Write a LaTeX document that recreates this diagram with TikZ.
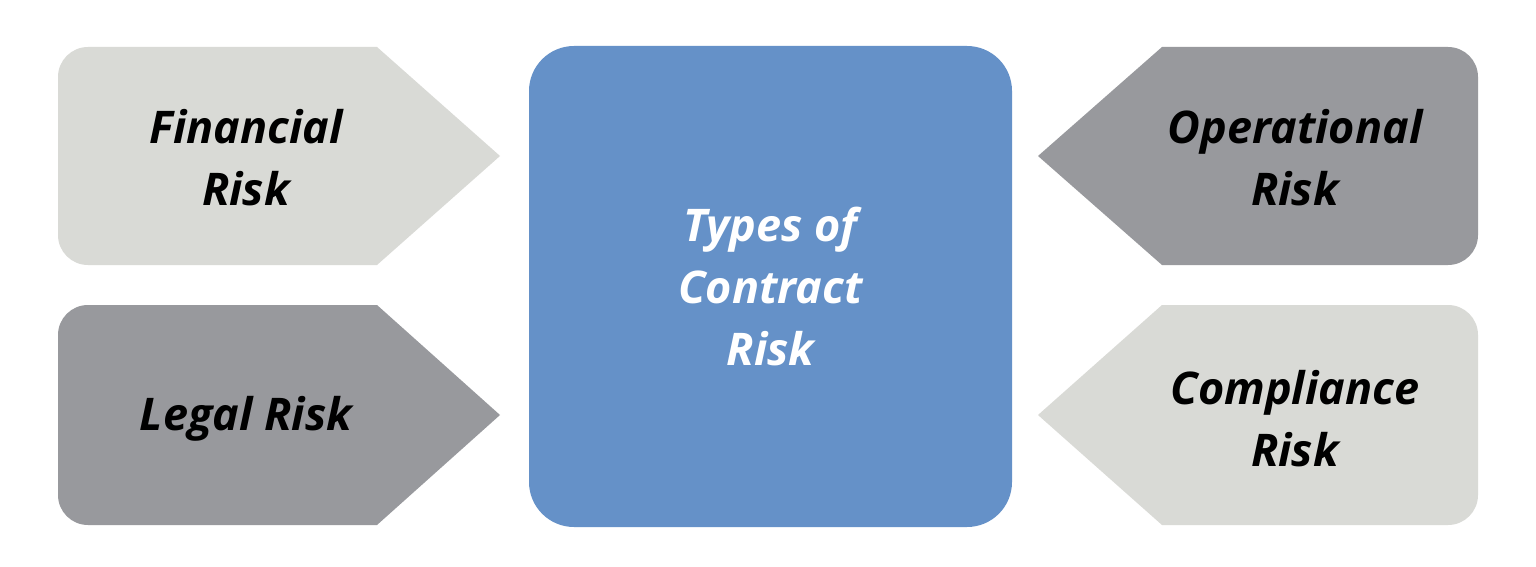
\documentclass[tikz,border=0pt]{standalone}
\usepackage{fontspec}
\setmainfont{Open Sans}
\usetikzlibrary{positioning}
\definecolor{lightrisk}{HTML}{D9DAD6}
\definecolor{darkrisk}{HTML}{98999D}
\definecolor{hubblue}{HTML}{6591C8}
\tikzset{
  riskname/.style={font=\fontsize{45}{62}\selectfont\bfseries\itshape, align=center, text=black},
  hub/.style={fill=hubblue, rounded corners=45pt, minimum width=483pt, minimum height=481pt,
    text=white, font=\fontsize{45}{62}\selectfont\bfseries\itshape, align=center}
}
\begin{document}
\begin{tikzpicture}[x=1pt,y=1pt]
   \fill[white] (0,0) rectangle (1536,566);
   \useasboundingbox (0,0) rectangle (1536,566);

   \node[hub] (types) at (770.5,279.5) {Types of\\Contract\\Risk};

   % left side
   \fill[lightrisk] (377,519) -- (500,410) -- (377,301) -- (88,301)
      arc[start angle=270, end angle=180, radius=30] -- (58,489)
      arc[start angle=180, end angle=90, radius=30] -- cycle;
   \fill[darkrisk] (377,261) -- (500,151) -- (377,41) -- (88,41)
      arc[start angle=270, end angle=180, radius=30] -- (58,231)
      arc[start angle=180, end angle=90, radius=30] -- cycle;
   \node[riskname] (fin) at (246,408) {Financial\\Risk};
   \node[riskname] (leg) at (246,147) {Legal Risk};

   % right side
   \fill[darkrisk] (1162,519) -- (1038,410) -- (1162,301) -- (1448,301)
      arc[start angle=270, end angle=360, radius=30] -- (1478,489)
      arc[start angle=0, end angle=90, radius=30] -- cycle;
   \fill[lightrisk] (1162,261) -- (1038,151) -- (1162,41) -- (1448,41)
      arc[start angle=270, end angle=360, radius=30] -- (1478,231)
      arc[start angle=0, end angle=90, radius=30] -- cycle;
   \node[riskname] (ope) at (1295,408) {Operational\\Risk};
   \node[riskname] (com) at (1295,147) {Compliance\\Risk};
\end{tikzpicture}
\end{document}
